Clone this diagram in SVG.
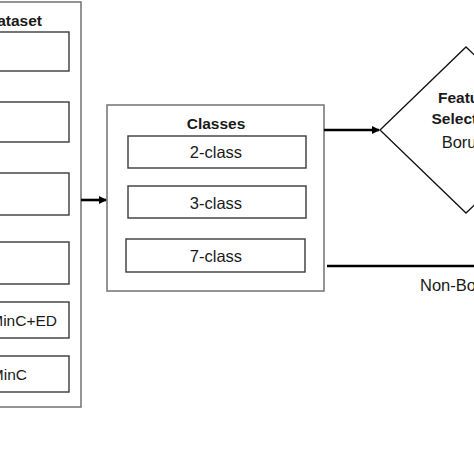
<svg xmlns="http://www.w3.org/2000/svg" width="474" height="474" viewBox="0 0 474 474">
<style>
text{font-family:"Liberation Sans",Arial,sans-serif;font-size:16.5px;fill:#1a1a1a}
.b{font-weight:bold;font-size:15.5px}
.s{font-size:15.5px}
.outer{fill:#fff;stroke:#7a7a7a;stroke-width:1.6}
.inner{fill:#fff;stroke:#3a3a3a;stroke-width:1.4}
.dia{fill:#fff;stroke:#111;stroke-width:1.3}
.con{stroke:#000;stroke-width:2.6;fill:none}
</style>
<defs>
<marker id="ah" markerWidth="8" markerHeight="8" refX="7" refY="4" orient="auto" markerUnits="userSpaceOnUse">
<path d="M0,0 L8,4 L0,8 z" fill="#000"/>
</marker>
</defs>
<rect width="474" height="474" fill="#fff"/>
<g id="dataset">
<rect class="outer" x="-10" y="2" width="91" height="405"/>
<text class="b" x="42" y="26" text-anchor="end">Dataset</text>
<rect class="inner" x="-10" y="32" width="79" height="39"/>
<rect class="inner" x="-10" y="102" width="79" height="40"/>
<rect class="inner" x="-10" y="173" width="79" height="42"/>
<rect class="inner" x="-10" y="242" width="79" height="42"/>
<rect class="inner" x="-10" y="302" width="79" height="36"/>
<text class="s" x="57" y="326" text-anchor="end">MinC+ED</text>
<rect class="inner" x="-10" y="356" width="79" height="36"/>
<text class="s" x="27" y="380" text-anchor="end">MinC</text>
</g>
<g id="classes">
<rect class="outer" x="107" y="105" width="217" height="186"/>
<text class="b" x="216" y="129" text-anchor="middle">Classes</text>
<rect class="inner" x="128" y="136" width="178" height="32"/>
<text x="216" y="158" text-anchor="middle">2-class</text>
<rect class="inner" x="128" y="186" width="178" height="32"/>
<text x="216" y="209" text-anchor="middle">3-class</text>
<rect class="inner" x="126" y="239" width="179" height="33"/>
<text x="216" y="262" text-anchor="middle">7-class</text>
</g>
<g id="feature-selection">
<polygon class="dia" points="380,130 466,47 552,130 466,213"/>
<text class="b" x="466" y="103" text-anchor="middle">Feature</text>
<text class="b" x="466" y="124" text-anchor="middle">Selection</text>
<text x="466" y="148" text-anchor="middle">Boruta</text>
</g>
<g id="connectors">
<line class="con" x1="81" y1="200" x2="106" y2="200" marker-end="url(#ah)"/>
<line class="con" x1="324" y1="130" x2="379" y2="130" marker-end="url(#ah)"/>
<line class="con" x1="327" y1="266" x2="480" y2="266"/>
<text x="420" y="291">Non-Boruta</text>
</g>
</svg>
